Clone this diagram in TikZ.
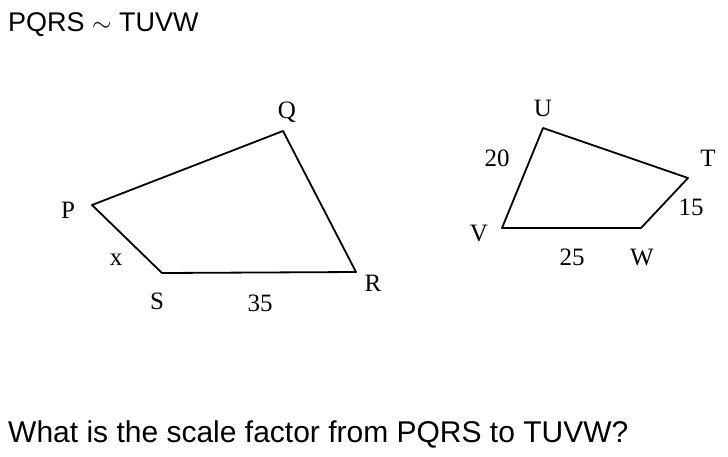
\documentclass[tikz,border=0pt]{standalone}
\usepackage{fontspec}
\setmainfont{Liberation Serif}
\newfontfamily\sansf{Liberation Sans}
\begin{document}
\begin{tikzpicture}[x=1pt,y=-1pt,
  edge/.style={line width=1.8pt,line join=round},
  lab/.style={font=\fontsize{25}{27}\selectfont,inner sep=0},
  txt/.style={font=\sansf\fontsize{30}{32}\selectfont,inner sep=0,anchor=base west}]
\useasboundingbox (0,0) rectangle (728,456);
\coordinate (P) at (92,205);
\coordinate (Q) at (283,131);
\coordinate (R) at (356,272);
\coordinate (S) at (162,273);
\coordinate (U) at (543,128);
\coordinate (T) at (688,178);
\coordinate (W) at (641,228);
\coordinate (V) at (502,228);
\draw[edge] (P) -- (Q) -- (R) -- (S) -- cycle;
\draw[edge] (U) -- (T) -- (W) -- (V) -- cycle;
\node[lab] (lP) at (68,210) {P};
\node[lab] (lQ) at (287,112) {Q};
\node[lab] (lR) at (373,283) {R};
\node[lab] (lS) at (157,301) {S};
\node[lab] (l35) at (260,303) {35};
\node[lab] (lx) at (116,260) {x};
\node[lab] (lU) at (543,108) {U};
\node[lab] (lT) at (708,158) {T};
\node[lab] (l15) at (691,207) {15};
\node[lab] (lW) at (642,257) {W};
\node[lab] (l25) at (572,257) {25};
\node[lab] (lV) at (479,233) {V};
\node[lab] (l20) at (497,158) {20};
\node[txt,font=\sansf\fontsize{27}{30}\selectfont] (title) at (8,31) {PQRS $\sim$ TUVW};
\node[txt] (q) at (8,442) {What is the scale factor from PQRS to TUVW?};
\end{tikzpicture}
\end{document}
